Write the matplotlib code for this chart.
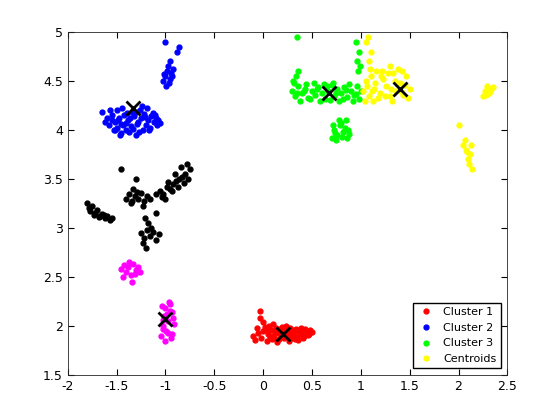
import matplotlib
matplotlib.use("Agg")
import matplotlib.pyplot as plt

red_x = [-0.10,-0.05,0.00,0.03,0.05,0.08,0.10,0.12,0.15,0.18,0.20,0.22,0.25,0.28,0.30,0.32,0.35,0.38,0.40,0.42,0.45,0.48,0.50,
         -0.08,-0.02,0.02,0.06,0.09,0.13,0.17,0.21,0.24,0.27,0.31,0.34,0.37,0.41,0.44,0.47,
         -0.03,-0.03,0.00,0.04,0.07,0.11,0.16,0.19,0.23,0.29,0.33,0.39,0.43,0.46,0.10,0.26,0.36,-0.06,0.14]
red_y = [1.90,1.93,1.95,1.97,1.92,1.96,1.90,1.94,1.93,1.91,1.95,1.92,1.90,1.94,1.91,1.93,1.89,1.92,1.95,1.90,1.93,1.96,1.94,
         1.86,1.88,1.99,2.00,1.87,1.98,1.97,1.88,1.97,1.98,1.96,1.97,1.95,1.88,1.95,1.92,
         2.15,2.08,2.04,1.85,1.89,1.88,1.87,1.99,2.00,1.88,1.87,1.98,1.97,1.91,2.02,1.85,1.86,1.98,1.84]

blue_x = [-1.65,-1.60,-1.58,-1.55,-1.52,-1.50,-1.48,-1.45,-1.42,-1.40,-1.38,-1.35,-1.32,-1.30,-1.28,-1.25,-1.22,-1.20,-1.18,-1.15,-1.12,-1.10,-1.08,
          -1.57,-1.53,-1.49,-1.46,-1.43,-1.39,-1.36,-1.33,-1.29,-1.26,-1.23,-1.19,-1.16,-1.13,-1.09,
          -1.55,-1.50,-1.44,-1.40,-1.34,-1.27,-1.21,-1.17,-1.11,-1.47,-1.37,-1.24,-1.62,-1.06,
          -1.02,-1.00,-0.98,-0.96,-0.94,-0.92,-0.99,-0.97,-0.95,-0.93,-1.01,-0.95,-1.00,-0.88,-0.86,-1.52,-1.30]
blue_y = [4.18,4.12,4.05,4.15,4.08,4.02,4.12,4.06,4.15,4.00,4.10,4.04,4.14,4.18,4.08,4.12,4.16,4.05,4.10,4.14,4.08,4.12,4.10,
          4.20,4.00,4.10,3.97,4.05,4.17,4.12,4.01,4.06,4.20,4.00,4.22,4.02,4.17,4.05,
          4.10,4.20,4.22,4.07,4.18,3.98,4.13,4.00,4.15,3.95,3.98,4.24,4.08,4.07,
          4.50,4.55,4.60,4.48,4.58,4.62,4.45,4.65,4.52,4.55,4.57,4.70,4.90,4.80,4.85,4.00,3.95]

green_x = [0.30,0.33,0.36,0.40,0.43,0.46,0.50,0.53,0.56,0.60,0.63,0.66,0.70,0.73,0.76,0.80,0.83,0.86,0.90,0.93,0.96,1.00,
           0.32,0.38,0.44,0.48,0.52,0.58,0.62,0.68,0.72,0.78,0.82,0.88,0.92,0.98,0.35,0.42,0.55,0.65,0.75,0.85,0.95,
           0.70,0.73,0.76,0.79,0.82,0.85,0.88,0.72,0.75,0.78,0.81,0.84,0.87,0.74,0.80,0.86,
           0.35,0.36,0.95,0.96,0.97,0.34,0.98,0.31,0.99]
green_y = [4.40,4.35,4.45,4.38,4.42,4.33,4.40,4.36,4.44,4.38,4.32,4.40,4.46,4.35,4.42,4.38,4.44,4.34,4.40,4.36,4.45,4.40,
           4.48,4.30,4.47,4.32,4.48,4.30,4.47,4.31,4.48,4.30,4.32,4.47,4.30,4.32,4.38,4.40,4.42,4.45,4.38,4.41,4.37,
           3.92,4.00,3.95,4.05,3.98,4.10,3.96,4.05,3.90,4.10,3.93,4.02,4.00,3.97,4.07,3.92,
           4.95,4.60,4.90,4.70,4.60,4.55,4.80,4.50,4.65]

yellow_x = [1.02,1.05,1.08,1.10,1.13,1.16,1.20,1.23,1.26,1.30,1.33,1.36,1.40,1.43,1.46,1.50,
            1.04,1.09,1.12,1.18,1.22,1.28,1.32,1.38,1.42,1.48,1.06,1.15,1.25,1.35,1.45,1.11,1.21,1.31,1.41,
            1.05,1.10,1.08,1.07,1.30,
            2.25,2.27,2.29,2.31,2.33,2.35,2.28,2.32,
            2.05,2.08,2.10,2.12,2.14,2.07,2.11,2.13,2.09,2.00]
yellow_y = [4.40,4.50,4.35,4.55,4.42,4.60,4.38,4.52,4.45,4.35,4.58,4.40,4.48,4.36,4.55,4.42,
            4.30,4.62,4.30,4.33,4.60,4.58,4.30,4.62,4.60,4.33,4.45,4.48,4.35,4.50,4.46,4.40,4.55,4.42,4.40,
            4.90,4.80,4.70,4.95,4.65,
            4.35,4.40,4.45,4.38,4.42,4.44,4.36,4.40,
            3.85,3.80,3.70,3.75,3.60,3.90,3.65,3.85,3.78,4.05]

black_x = [-1.80,-1.78,-1.75,-1.72,-1.70,-1.67,-1.65,-1.62,-1.60,-1.57,-1.55,-1.77,-1.73,-1.68,-1.63,
           -1.40,-1.37,-1.34,-1.31,-1.28,-1.25,-1.22,-1.19,-1.16,-1.35,-1.29,-1.23,
           -1.10,-1.06,-1.02,-0.98,-0.95,-0.92,-0.89,-0.86,-0.83,-0.80,-0.77,-0.75,-1.04,-0.97,-0.90,-0.84,-0.78,-0.93,-0.87,-0.81,-1.00,
           -1.25,-1.22,-1.19,-1.16,-1.13,-1.10,-1.07,-1.20,-1.18,-1.21,-1.23,-1.15,
           -1.30,-1.45,-1.33,-1.10]
black_y = [3.25,3.20,3.22,3.15,3.18,3.12,3.14,3.10,3.12,3.08,3.10,3.17,3.13,3.11,3.13,
           3.30,3.35,3.28,3.33,3.30,3.36,3.28,3.33,3.30,3.25,3.37,3.22,
           3.35,3.38,3.35,3.42,3.40,3.45,3.48,3.50,3.52,3.55,3.50,3.60,3.32,3.47,3.55,3.62,3.65,3.38,3.42,3.46,3.30,
           2.95,2.90,2.98,2.92,2.96,2.88,2.94,2.80,3.05,3.10,2.85,3.00,
           3.50,3.60,3.40,3.15]

mag_x = [-1.45,-1.42,-1.40,-1.38,-1.35,-1.33,-1.30,-1.28,-1.26,-1.43,-1.37,-1.31,-1.34,
         -1.05,-1.03,-1.01,-0.99,-0.97,-0.95,-0.93,-0.91,-1.04,-1.00,-0.96,-0.92,-1.02,-0.98,-0.94,-1.00,-0.97,-0.95,-1.03,-0.93]
mag_y = [2.58,2.62,2.55,2.60,2.52,2.63,2.57,2.60,2.55,2.50,2.65,2.53,2.45,
         1.90,2.00,2.10,1.95,2.05,2.15,1.92,2.02,2.20,1.85,2.25,2.08,1.97,2.12,1.88,2.18,1.93,2.22,2.06,2.14]

cent_x = [0.20, -1.33, 0.67, 1.40, -1.00]
cent_y = [1.92, 4.22, 4.38, 4.42, 2.07]

labels = ["Cluster 1", "Cluster 2", "Cluster 3", "Centroids"]

fig = plt.figure(figsize=(5.6, 4.2), dpi=100)
ax = fig.add_axes([0.121, 0.107, 0.785, 0.817])
ms = 7
ax.plot(red_x, red_y, '.', color='red', ms=ms, label=labels[0])
ax.plot(blue_x, blue_y, '.', color='blue', ms=ms, label=labels[1])
ax.plot(green_x, green_y, '.', color='#00ff00', ms=ms, label=labels[2])
ax.plot(yellow_x, yellow_y, '.', color='yellow', ms=ms, label=labels[3])
ax.plot(black_x, black_y, '.', color='black', ms=ms)
ax.plot(mag_x, mag_y, '.', color='magenta', ms=ms)
ax.plot(cent_x, cent_y, 'x', color='black', ms=10, mew=2)
ax.set_xlim(-2, 2.5)
ax.set_ylim(1.5, 5)
ax.set_xticks([-2,-1.5,-1,-0.5,0,0.5,1,1.5,2,2.5])
ax.set_xticklabels(['-2','-1.5','-1','-0.5','0','0.5','1','1.5','2','2.5'])
ax.set_yticks([1.5,2,2.5,3,3.5,4,4.5,5])
ax.set_yticklabels(['1.5','2','2.5','3','3.5','4','4.5','5'])
ax.tick_params(direction='in', labelsize=9, length=4, top=True, right=True, labeltop=False, labelright=False)
for s in ax.spines.values():
    s.set_color('#262626'); s.set_linewidth(0.6)
ax.legend(loc='lower right', fontsize=8, fancybox=False, edgecolor='black', framealpha=1, borderaxespad=0.6, handlelength=1.5)
fig.savefig("out.png", dpi=100)
